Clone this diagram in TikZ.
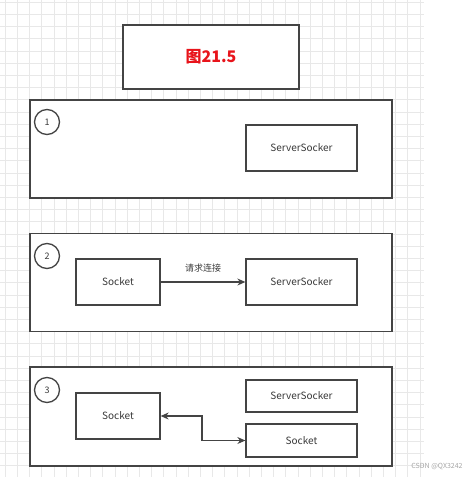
\documentclass[tikz,border=0pt]{standalone}
\usepackage{fontspec}
\setmainfont{Noto Sans CJK SC}
\usepackage{tikz}
\usetikzlibrary{
	arrows.meta,
	% positioning,
	% calc,
}
\definecolor{linegray}{HTML}{444444}
\definecolor{textgray}{HTML}{3A3A3A}
\definecolor{gridgray}{HTML}{E8E8E8}
\definecolor{titlered}{HTML}{E8141B}
\tikzstyle{arrow} = [line width=1.1pt, linegray, -{Stealth[length=8pt,width=7pt]}]
\tikzstyle{box} = [draw=linegray, line width=1.3pt, fill=white, text=textgray, font=\fontsize{10}{12}\selectfont, inner sep=0pt]
\tikzstyle{frame} = [draw=linegray, line width=1.3pt, fill=white, inner sep=0pt, minimum width=362pt, minimum height=98pt]
\tikzstyle{stepnum} = [circle, draw=linegray, line width=1.3pt, minimum size=25pt, inner sep=0pt, text=textgray, font=\fontsize{9}{10}\selectfont]

\begin{document}
\begin{tikzpicture}[x=1pt, y=-1pt]
	\useasboundingbox[fill=white] (0,0) rectangle (474,477);

	% background grid
	\foreach \i in {0,...,34} {
			\pgfmathsetmacro{\gx}{5+12.2*\i}
			\draw[gridgray, line width=0.6pt] (\gx, 0) -- (\gx, 477);
		}
	\foreach \j in {0,...,38} {
			\pgfmathsetmacro{\gy}{2+12.2*\j}
			\draw[gridgray, line width=0.6pt] (0, \gy) -- (424, \gy);
		}

	% title
	\node[box, minimum width=176pt, minimum height=64pt, text=titlered, font=\fontsize{16}{19}\selectfont\bfseries] (title) at (211, 57) {图21.5};

	% step 1
	\node[frame] (frame1) at (211, 149) {};
	\node[stepnum] (num1) at (47, 122) {1};
	\node[box, minimum width=111pt, minimum height=46pt] (server1) at (301.5, 148) {ServerSocker};

	% step 2
	\node[frame] (frame2) at (211, 282.5) {};
	\node[stepnum] (num2) at (47, 256) {2};
	\node[box, minimum width=84pt, minimum height=46pt] (client2) at (118, 282) {Socket};
	\node[box, minimum width=111pt, minimum height=46pt] (server2) at (301.5, 282) {ServerSocker};
	\draw[arrow] (client2.east) -- (server2.west) node[midway, above=6pt, text=textgray, font=\fontsize{9}{11}\selectfont] {请求连接};

	% step 3
	\node[frame, minimum height=99pt] (frame3) at (211, 416.5) {};
	\node[stepnum] (num3) at (47, 390) {3};
	\node[box, minimum width=84pt, minimum height=46pt] (client3) at (118, 416) {Socket};
	\node[box, minimum width=111pt, minimum height=32pt] (server3) at (301.5, 396) {ServerSocker};
	\node[box, minimum width=111pt, minimum height=33pt] (accept3) at (301.5, 440.5) {Socket};
	\coordinate (bend3) at (202, 416);
	\draw[arrow, {Stealth[length=8pt,width=7pt]}-{Stealth[length=8pt,width=7pt]}] (client3.east) -- (bend3) |- (accept3.west);

	% watermark
	\node[text=black!35, font=\fontsize{7}{8}\selectfont] (mark) at (437, 467) {CSDN @QX3242};

\end{tikzpicture}
\end{document}
